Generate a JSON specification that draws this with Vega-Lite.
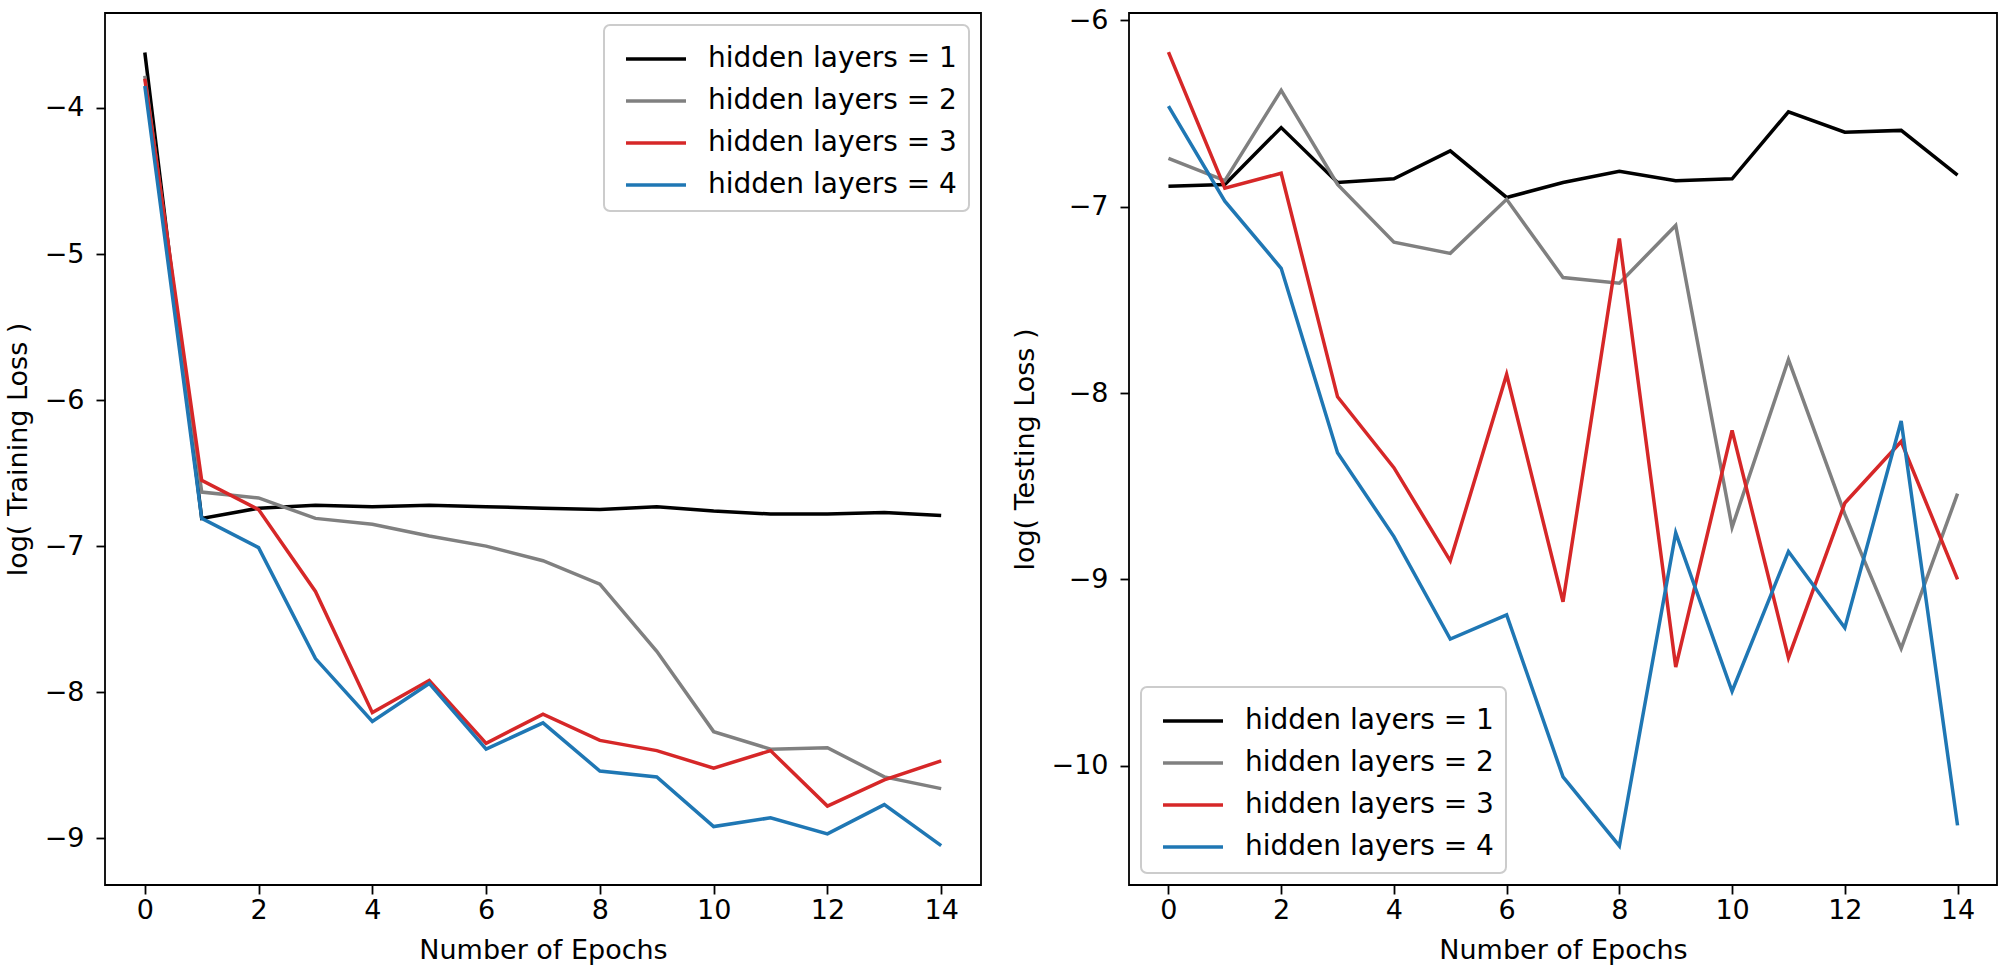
{
  "$schema": "https://vega.github.io/schema/vega-lite/v6.json",
  "padding": {"left": 3, "top": 5, "right": 2, "bottom": 2},
  "background": "white",
  "spacing": 28,
  "datasets": {
    "train": [
      {"epoch": 0, "series": "hidden layers = 1", "loss": -3.62},
      {"epoch": 1, "series": "hidden layers = 1", "loss": -6.81},
      {"epoch": 2, "series": "hidden layers = 1", "loss": -6.74},
      {"epoch": 3, "series": "hidden layers = 1", "loss": -6.72},
      {"epoch": 4, "series": "hidden layers = 1", "loss": -6.73},
      {"epoch": 5, "series": "hidden layers = 1", "loss": -6.72},
      {"epoch": 6, "series": "hidden layers = 1", "loss": -6.73},
      {"epoch": 7, "series": "hidden layers = 1", "loss": -6.74},
      {"epoch": 8, "series": "hidden layers = 1", "loss": -6.75},
      {"epoch": 9, "series": "hidden layers = 1", "loss": -6.73},
      {"epoch": 10, "series": "hidden layers = 1", "loss": -6.76},
      {"epoch": 11, "series": "hidden layers = 1", "loss": -6.78},
      {"epoch": 12, "series": "hidden layers = 1", "loss": -6.78},
      {"epoch": 13, "series": "hidden layers = 1", "loss": -6.77},
      {"epoch": 14, "series": "hidden layers = 1", "loss": -6.79},
      {"epoch": 0, "series": "hidden layers = 2", "loss": -3.78},
      {"epoch": 1, "series": "hidden layers = 2", "loss": -6.63},
      {"epoch": 2, "series": "hidden layers = 2", "loss": -6.67},
      {"epoch": 3, "series": "hidden layers = 2", "loss": -6.81},
      {"epoch": 4, "series": "hidden layers = 2", "loss": -6.85},
      {"epoch": 5, "series": "hidden layers = 2", "loss": -6.93},
      {"epoch": 6, "series": "hidden layers = 2", "loss": -7.0},
      {"epoch": 7, "series": "hidden layers = 2", "loss": -7.1},
      {"epoch": 8, "series": "hidden layers = 2", "loss": -7.26},
      {"epoch": 9, "series": "hidden layers = 2", "loss": -7.72},
      {"epoch": 10, "series": "hidden layers = 2", "loss": -8.27},
      {"epoch": 11, "series": "hidden layers = 2", "loss": -8.39},
      {"epoch": 12, "series": "hidden layers = 2", "loss": -8.38},
      {"epoch": 13, "series": "hidden layers = 2", "loss": -8.58},
      {"epoch": 14, "series": "hidden layers = 2", "loss": -8.66},
      {"epoch": 0, "series": "hidden layers = 3", "loss": -3.8},
      {"epoch": 1, "series": "hidden layers = 3", "loss": -6.55},
      {"epoch": 2, "series": "hidden layers = 3", "loss": -6.75},
      {"epoch": 3, "series": "hidden layers = 3", "loss": -7.31},
      {"epoch": 4, "series": "hidden layers = 3", "loss": -8.14},
      {"epoch": 5, "series": "hidden layers = 3", "loss": -7.92},
      {"epoch": 6, "series": "hidden layers = 3", "loss": -8.35},
      {"epoch": 7, "series": "hidden layers = 3", "loss": -8.15},
      {"epoch": 8, "series": "hidden layers = 3", "loss": -8.33},
      {"epoch": 9, "series": "hidden layers = 3", "loss": -8.4},
      {"epoch": 10, "series": "hidden layers = 3", "loss": -8.52},
      {"epoch": 11, "series": "hidden layers = 3", "loss": -8.4},
      {"epoch": 12, "series": "hidden layers = 3", "loss": -8.78},
      {"epoch": 13, "series": "hidden layers = 3", "loss": -8.6},
      {"epoch": 14, "series": "hidden layers = 3", "loss": -8.47},
      {"epoch": 0, "series": "hidden layers = 4", "loss": -3.85},
      {"epoch": 1, "series": "hidden layers = 4", "loss": -6.81},
      {"epoch": 2, "series": "hidden layers = 4", "loss": -7.01},
      {"epoch": 3, "series": "hidden layers = 4", "loss": -7.77},
      {"epoch": 4, "series": "hidden layers = 4", "loss": -8.2},
      {"epoch": 5, "series": "hidden layers = 4", "loss": -7.94},
      {"epoch": 6, "series": "hidden layers = 4", "loss": -8.39},
      {"epoch": 7, "series": "hidden layers = 4", "loss": -8.21},
      {"epoch": 8, "series": "hidden layers = 4", "loss": -8.54},
      {"epoch": 9, "series": "hidden layers = 4", "loss": -8.58},
      {"epoch": 10, "series": "hidden layers = 4", "loss": -8.92},
      {"epoch": 11, "series": "hidden layers = 4", "loss": -8.86},
      {"epoch": 12, "series": "hidden layers = 4", "loss": -8.97},
      {"epoch": 13, "series": "hidden layers = 4", "loss": -8.77},
      {"epoch": 14, "series": "hidden layers = 4", "loss": -9.05}
    ],
    "test": [
      {"epoch": 0, "series": "hidden layers = 1", "loss": -6.89},
      {"epoch": 1, "series": "hidden layers = 1", "loss": -6.88},
      {"epoch": 2, "series": "hidden layers = 1", "loss": -6.575},
      {"epoch": 3, "series": "hidden layers = 1", "loss": -6.87},
      {"epoch": 4, "series": "hidden layers = 1", "loss": -6.85},
      {"epoch": 5, "series": "hidden layers = 1", "loss": -6.7},
      {"epoch": 6, "series": "hidden layers = 1", "loss": -6.95},
      {"epoch": 7, "series": "hidden layers = 1", "loss": -6.87},
      {"epoch": 8, "series": "hidden layers = 1", "loss": -6.81},
      {"epoch": 9, "series": "hidden layers = 1", "loss": -6.86},
      {"epoch": 10, "series": "hidden layers = 1", "loss": -6.85},
      {"epoch": 11, "series": "hidden layers = 1", "loss": -6.49},
      {"epoch": 12, "series": "hidden layers = 1", "loss": -6.6},
      {"epoch": 13, "series": "hidden layers = 1", "loss": -6.59},
      {"epoch": 14, "series": "hidden layers = 1", "loss": -6.83},
      {"epoch": 0, "series": "hidden layers = 2", "loss": -6.74},
      {"epoch": 1, "series": "hidden layers = 2", "loss": -6.86},
      {"epoch": 2, "series": "hidden layers = 2", "loss": -6.375},
      {"epoch": 3, "series": "hidden layers = 2", "loss": -6.88},
      {"epoch": 4, "series": "hidden layers = 2", "loss": -7.19},
      {"epoch": 5, "series": "hidden layers = 2", "loss": -7.25},
      {"epoch": 6, "series": "hidden layers = 2", "loss": -6.96},
      {"epoch": 7, "series": "hidden layers = 2", "loss": -7.38},
      {"epoch": 8, "series": "hidden layers = 2", "loss": -7.41},
      {"epoch": 9, "series": "hidden layers = 2", "loss": -7.1},
      {"epoch": 10, "series": "hidden layers = 2", "loss": -8.72},
      {"epoch": 11, "series": "hidden layers = 2", "loss": -7.82},
      {"epoch": 12, "series": "hidden layers = 2", "loss": -8.65},
      {"epoch": 13, "series": "hidden layers = 2", "loss": -9.37},
      {"epoch": 14, "series": "hidden layers = 2", "loss": -8.54},
      {"epoch": 0, "series": "hidden layers = 3", "loss": -6.17},
      {"epoch": 1, "series": "hidden layers = 3", "loss": -6.9},
      {"epoch": 2, "series": "hidden layers = 3", "loss": -6.82},
      {"epoch": 3, "series": "hidden layers = 3", "loss": -8.02},
      {"epoch": 4, "series": "hidden layers = 3", "loss": -8.4},
      {"epoch": 5, "series": "hidden layers = 3", "loss": -8.9},
      {"epoch": 6, "series": "hidden layers = 3", "loss": -7.9},
      {"epoch": 7, "series": "hidden layers = 3", "loss": -9.12},
      {"epoch": 8, "series": "hidden layers = 3", "loss": -7.17},
      {"epoch": 9, "series": "hidden layers = 3", "loss": -9.47},
      {"epoch": 10, "series": "hidden layers = 3", "loss": -8.2},
      {"epoch": 11, "series": "hidden layers = 3", "loss": -9.42},
      {"epoch": 12, "series": "hidden layers = 3", "loss": -8.59},
      {"epoch": 13, "series": "hidden layers = 3", "loss": -8.26},
      {"epoch": 14, "series": "hidden layers = 3", "loss": -9.0},
      {"epoch": 0, "series": "hidden layers = 4", "loss": -6.46},
      {"epoch": 1, "series": "hidden layers = 4", "loss": -6.97},
      {"epoch": 2, "series": "hidden layers = 4", "loss": -7.33},
      {"epoch": 3, "series": "hidden layers = 4", "loss": -8.32},
      {"epoch": 4, "series": "hidden layers = 4", "loss": -8.77},
      {"epoch": 5, "series": "hidden layers = 4", "loss": -9.32},
      {"epoch": 6, "series": "hidden layers = 4", "loss": -9.19},
      {"epoch": 7, "series": "hidden layers = 4", "loss": -10.06},
      {"epoch": 8, "series": "hidden layers = 4", "loss": -10.43},
      {"epoch": 9, "series": "hidden layers = 4", "loss": -8.75},
      {"epoch": 10, "series": "hidden layers = 4", "loss": -9.6},
      {"epoch": 11, "series": "hidden layers = 4", "loss": -8.85},
      {"epoch": 12, "series": "hidden layers = 4", "loss": -9.26},
      {"epoch": 13, "series": "hidden layers = 4", "loss": -8.15},
      {"epoch": 14, "series": "hidden layers = 4", "loss": -10.32}
    ]
  },
  "config": {
    "font": "DejaVu Sans",
    "view": {"stroke": "#000000", "strokeWidth": 1.8},
    "axis": {
      "grid": false,
      "domain": false,
      "tickColor": "#000000",
      "tickSize": 9,
      "tickWidth": 1.8,
      "labelFont": "DejaVu Sans",
      "labelFontSize": 27,
      "labelColor": "#000000",
      "titleFont": "DejaVu Sans",
      "titleFontSize": 27,
      "titleFontWeight": "normal",
      "titleColor": "#000000"
    },
    "legend": {
      "labelFont": "DejaVu Sans",
      "labelFontSize": 28,
      "labelColor": "#000000",
      "labelLimit": 0,
      "symbolType": "M-1.5,0H1.5",
      "symbolSize": 1600,
      "symbolStrokeWidth": 3.5,
      "symbolOffset": 18,
      "rowPadding": 6,
      "padding": 12,
      "strokeColor": "#cccccc",
      "strokeWidth": 2,
      "fillColor": "#ffffff",
      "cornerRadius": 6,
      "labelOffset": 30,
      "offset": 12
    }
  },
  "resolve": {"legend": {"color": "independent"}},
  "hconcat": [
    {
      "width": 876,
      "height": 872,
      "data": {"name": "train"},
      "mark": {"type": "line", "strokeWidth": 3.5},
      "encoding": {
        "x": {
          "field": "epoch", "type": "quantitative",
          "scale": {"domain": [-0.7, 14.7], "nice": false, "zero": false},
          "axis": {"values": [0, 2, 4, 6, 8, 10, 12, 14], "title": "Number of Epochs", "labelPadding": 3, "titlePadding": 14}
        },
        "y": {
          "field": "loss", "type": "quantitative",
          "scale": {"domain": [-9.32, -3.35], "nice": false, "zero": false},
          "axis": {"values": [-9, -8, -7, -6, -5, -4], "title": "log( Training Loss )", "labelPadding": 12, "titlePadding": 12}
        },
        "color": {
          "field": "series", "type": "nominal",
          "scale": {
            "domain": ["hidden layers = 1", "hidden layers = 2", "hidden layers = 3", "hidden layers = 4"],
            "range": ["#000000", "#808080", "#d62728", "#1f77b4"]
          },
          "legend": {"orient": "top-right", "title": null}
        }
      }
    },
    {
      "width": 868,
      "height": 872,
      "data": {"name": "test"},
      "mark": {"type": "line", "strokeWidth": 3.5},
      "encoding": {
        "x": {
          "field": "epoch", "type": "quantitative",
          "scale": {"domain": [-0.7, 14.7], "nice": false, "zero": false},
          "axis": {"values": [0, 2, 4, 6, 8, 10, 12, 14], "title": "Number of Epochs", "labelPadding": 3, "titlePadding": 14}
        },
        "y": {
          "field": "loss", "type": "quantitative",
          "scale": {"domain": [-10.64, -5.96], "nice": false, "zero": false},
          "axis": {"values": [-10, -9, -8, -7, -6], "title": "log( Testing Loss )", "labelPadding": 12, "titlePadding": 12}
        },
        "color": {
          "field": "series", "type": "nominal",
          "scale": {
            "domain": ["hidden layers = 1", "hidden layers = 2", "hidden layers = 3", "hidden layers = 4"],
            "range": ["#000000", "#808080", "#d62728", "#1f77b4"]
          },
          "legend": {"orient": "bottom-left", "title": null}
        }
      }
    }
  ]
}
